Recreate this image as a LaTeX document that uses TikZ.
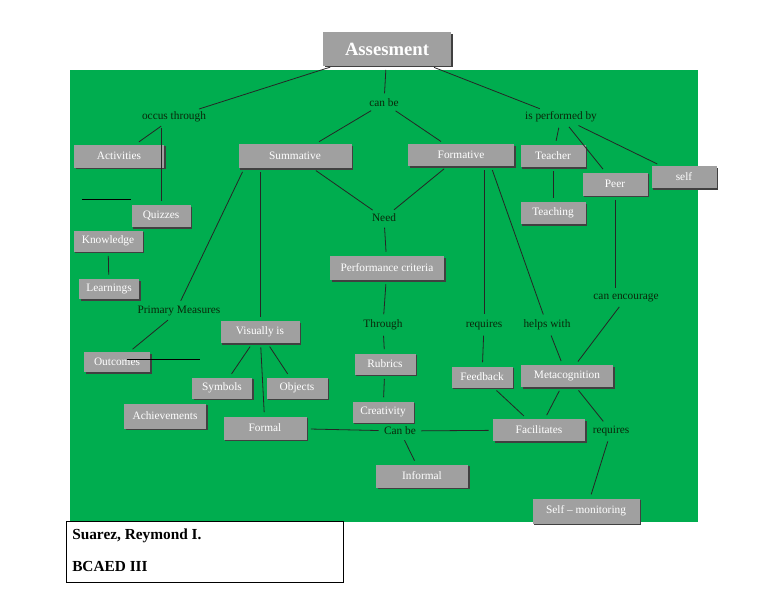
\documentclass[tikz,border=0pt]{standalone}
\usepackage{fontspec}
\setmainfont{Liberation Serif}
\usetikzlibrary{shadows}
\definecolor{bg}{RGB}{0,173,79}
\definecolor{bx}{RGB}{160,160,160}
\definecolor{lbl}{RGB}{10,40,10}
\begin{document}
\begin{tikzpicture}[x=0.75pt,y=-0.75pt,
  box/.style={fill=bx,text=white,inner sep=0pt,font=\fontsize{8.5}{10}\selectfont,
    drop shadow={shadow xshift=1.2pt,shadow yshift=-1.2pt,fill=black!75,opacity=1}},
  lab/.style={text=lbl,inner sep=1pt,font=\fontsize{8.5}{10}\selectfont},
  ln/.style={draw=black!85,line width=0.6pt,shorten <=3pt,shorten >=3pt}]
\useasboundingbox (0,0) rectangle (768,594);
\fill[bg] (70,70) rectangle (698,522);
\newcommand{\bxn}[5]{\node[box,minimum width=#3*0.75pt,minimum height=#4*0.75pt] (#1) at (#2) {#5};}
\node[box,minimum width=96pt,minimum height=25pt,font=\fontsize{14}{16}\selectfont\bfseries] (A) at (387,49) {Assesment};
\bxn{act}{119,156}{90}{23}{Activities}
\bxn{sum}{295,156}{113}{24}{Summative}
\bxn{form}{461,155}{106}{22}{Formative}
\bxn{teach}{553,156}{65}{22}{Teacher}
\bxn{peer}{615,184}{65}{23}{Peer}
\bxn{self}{684,177}{65}{22}{self}
\bxn{tching}{553,213}{65}{22}{Teaching}
\bxn{quiz}{161,216}{59}{22}{Quizzes}
\bxn{know}{108,241}{69}{21}{Knowledge}
\bxn{learn}{109,289}{60}{20}{Learnings}
\bxn{perf}{387,268}{114}{24}{Performance criteria}
\bxn{vis}{260,332}{79}{22}{Visually is}
\bxn{out}{117,362}{66}{20}{Outcomes}
\bxn{sym}{222,388}{60}{21}{Symbols}
\bxn{obj}{297,388}{61}{21}{Objects}
\bxn{ach}{165,416}{82}{25}{Achievements}
\bxn{formal}{265,428}{83}{23}{Formal}
\bxn{rub}{385,364}{61}{21}{Rubrics}
\bxn{crea}{383,412}{61}{21}{Creativity}
\bxn{feed}{482,377}{61}{21}{Feedback}
\bxn{meta}{567,376}{92}{22}{Metacognition}
\bxn{fac}{539,430}{92}{22}{Facilitates}
\bxn{inf}{422,476}{92}{23}{Informal}
\bxn{smon}{586,511}{107}{25}{Self -- monitoring}
\node[lab] (occ) at (174,117) {occus through};
\node[lab] (canbe) at (384,103) {can be};
\node[lab] (perfby) at (561,117) {is performed by};
\node[lab] (need) at (384,218) {Need};
\node[lab] (prim) at (179,311) {Primary Measures};
\node[lab] (thr) at (383,325) {Through};
\node[lab] (req1) at (484,325) {requires};
\node[lab] (helps) at (547,325) {helps with};
\node[lab] (enc) at (626,298) {can encourage};
\node[lab] (canbe2) at (400,431) {Can be};
\node[lab] (req2) at (611,431) {requires};
\coordinate (f1) at (82,199); \coordinate (f2) at (131,199);
\coordinate (f3) at (200,359);
\draw[ln] (A) -- (occ); \draw[ln] (A) -- (canbe); \draw[ln] (A) -- (perfby);
\draw[ln] (occ) -- (act); \draw[ln] (occ.south -| quiz) -- (quiz);
\draw[line width=0.6pt] (f1) -- (f2);
\draw[ln] (know) -- (learn);
\draw[ln] (canbe) -- (sum); \draw[ln] (canbe) -- (form);
\draw[ln] (perfby) -- (teach); \draw[ln] (perfby) -- (peer); \draw[ln] (perfby) -- (self);
\draw[ln] (teach) -- (tching); \draw[ln] (peer) -- (peer |- enc.north);
\draw[ln] (sum) -- (need); \draw[ln] (form) -- (need); \draw[ln] (need) -- (perf);
\draw[ln] (perf) -- (thr); \draw[ln] (thr) -- (rub); \draw[ln] (rub) -- (crea);
\draw[ln] (sum.south west) ++(6,0) coordinate (s1) (s1) -- (prim.north);
\draw[ln] (sum.south -| vis) -- (vis);
\draw[ln] (prim) -- (out);
\draw[line width=0.6pt] (out.center) ++(10,-3) coordinate (o1) (o1) -- (f3);
\draw[ln] (vis) -- (sym); \draw[ln] (vis) -- (obj); \draw[ln] (vis) -- (formal);
\draw[ln] (formal) -- (canbe2); \draw[ln] (canbe2) -- (fac); \draw[ln] (canbe2) -- (inf);
\draw[ln] (form.south -| req1) -- (req1); \draw[ln] (req1) -- (feed);
\draw[ln] (form.south) ++(30,0) coordinate (fo2) (fo2) -- (helps);
\draw[ln] (helps) -- (meta); \draw[ln] (enc) -- (meta);
\draw[ln] (feed) -- (fac); \draw[ln] (meta) -- (fac); \draw[ln] (meta) -- (req2);
\draw[ln] (req2) -- (smon);
\node[draw=black,line width=0.5pt,fill=white,minimum width=207.75pt,minimum height=45.75pt,inner sep=0pt] (nb) at (204.5,551.5) {};
\node[anchor=west,inner sep=0pt,font=\fontsize{11.5}{13}\selectfont\bfseries] (nm) at (72,536) {Suarez, Reymond I.};
\node[anchor=west,inner sep=0pt,font=\fontsize{11.5}{13}\selectfont\bfseries] (cl) at (72,566) {BCAED III};
\end{tikzpicture}
\end{document}
